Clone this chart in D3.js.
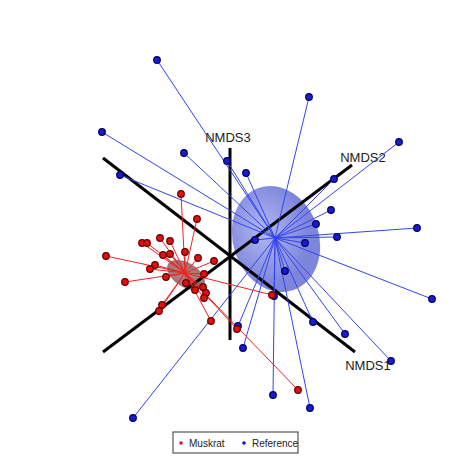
<!DOCTYPE html>
<html><head><meta charset="utf-8">
<script src="https://cdn.jsdelivr.net/npm/d3@7"></script>
<style>body{margin:0;background:#fff}</style>
</head><body><div id="chart"></div>
<script>
// projected ordination coordinates (screen-plane units)
const muskratX = [181,197,160,170,142,147,163,170,185,198,214,106,155,150,166,204,125,186,195,203,206,204,162,159,211,237,272,298];
const muskratY = [194,219,238,241,243,243,255,254,252,258,261,256,265,269,277,274,282,283,290,287,293,298,305,311,321,329,295,390];
const refX = [399,227,246,334,331,316,417,337,305,255,285,432,274,313,345,238,243,391,157,309,102,184,120,273,310,133];
const refY = [142,161,173,179,210,224,228,237,243,240,271,299,296,322,334,326,348,361,60,97,132,153,175,395,408,418];
const muskratCentroid = [185, 273];
const refCentroid = [275, 238];
const axisNames = ["NMDS1", "NMDS2", "NMDS3"];
const legendLabels = ["Muskrat", "Reference"];

const W = 474, H = 474;
const x = d3.scaleLinear().domain([0, 474]).range([0, W]);
const y = d3.scaleLinear().domain([0, 474]).range([0, H]);

const svg = d3.select("#chart").append("svg").attr("width", W).attr("height", H);
const defs = svg.append("defs");
const gb = defs.append("radialGradient").attr("id", "gb").attr("cx", "40%").attr("cy", "40%");
gb.append("stop").attr("offset", "0%").attr("stop-color", "#a8b0f0");
gb.append("stop").attr("offset", "100%").attr("stop-color", "#6f78d8");
const gr = defs.append("radialGradient").attr("id", "gr");
gr.append("stop").attr("offset", "0%").attr("stop-color", "#b07070");
gr.append("stop").attr("offset", "100%").attr("stop-color", "#8a6060");

// spread ellipsoids
svg.append("ellipse").attr("cx", x(276)).attr("cy", y(239)).attr("rx", 43).attr("ry", 54)
  .attr("transform", `rotate(-18,${x(276)},${y(239)})`).attr("fill", "url(#gb)").attr("opacity", 0.9);
svg.append("ellipse").attr("cx", x(186)).attr("cy", y(275)).attr("rx", 21).attr("ry", 12)
  .attr("transform", `rotate(32,${x(186)},${y(275)})`).attr("fill", "url(#gr)").attr("opacity", 0.85);

// axes
const axes = [[103,158,355,352],[103,352,352,165],[230,148,230,340]];
svg.selectAll(".ax").data(axes).enter().append("line")
  .attr("x1", d => x(d[0])).attr("y1", d => y(d[1])).attr("x2", d => x(d[2])).attr("y2", d => y(d[3]))
  .attr("stroke", "black").attr("stroke-width", 3);
const labelPos = [[368,370],[363,162],[228,142]];
svg.selectAll(".axl").data(axisNames).enter().append("text")
  .attr("x", (d, i) => x(labelPos[i][0])).attr("y", (d, i) => y(labelPos[i][1]))
  .attr("text-anchor", "middle").attr("font-family", "Arial, Liberation Sans, sans-serif")
  .attr("font-size", 13).attr("fill", "#222").text(d => d);

// spider lines
function spider(xs, ys, c, col) {
  svg.append("g").selectAll("line").data(xs).enter().append("line")
    .attr("x1", x(c[0])).attr("y1", y(c[1]))
    .attr("x2", d => x(d)).attr("y2", (d, i) => y(ys[i]))
    .attr("stroke", col).attr("stroke-width", 1);
}
spider(refX, refY, refCentroid, "#3344ee");
spider(muskratX, muskratY, muskratCentroid, "#ee2222");

function points(xs, ys, fill, stroke) {
  svg.append("g").selectAll("circle").data(xs).enter().append("circle")
    .attr("cx", d => x(d)).attr("cy", (d, i) => y(ys[i])).attr("r", 3.3)
    .attr("fill", fill).attr("stroke", stroke).attr("stroke-width", 1.2);
}
points(refX, refY, "#1a1ad0", "#000066");
points(muskratX, muskratY, "#e01010", "#660000");

// legend
const lg = svg.append("g");
lg.append("rect").attr("x", 173).attr("y", 432).attr("width", 125).attr("height", 21)
  .attr("fill", "white").attr("stroke", "#333");
const lgCol = ["#e01030", "#1010d0"];
const lgX = [181, 244];
legendLabels.forEach((t, i) => {
  lg.append("circle").attr("cx", lgX[i]).attr("cy", 443).attr("r", 1.8).attr("fill", lgCol[i]);
  lg.append("text").attr("x", lgX[i] + 8).attr("y", 447).attr("font-size", 10)
    .attr("font-family", "Arial, Liberation Sans, sans-serif").attr("fill", "#222").text(t);
});
</script></body></html>
